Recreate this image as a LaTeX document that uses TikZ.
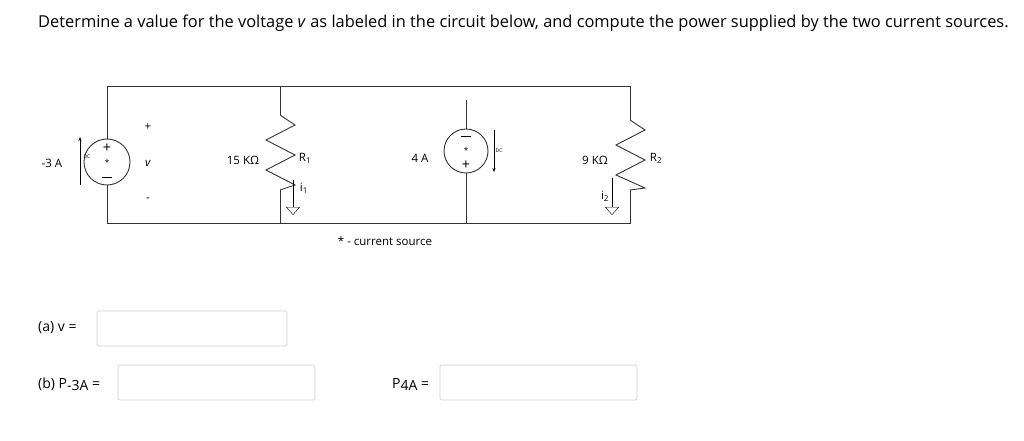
\documentclass[tikz,border=0pt]{standalone}
\usepackage{fontspec}
\setmainfont{Open Sans}
\usetikzlibrary{arrows.meta}
\tikzset{
  wire/.style={line width=0.9pt, black!80},
  srcarrow/.style={thin, -{Stealth[length=4pt,width=3pt]}},
  probe/.style={thin, -{Triangle[open, length=8pt, width=14pt]}},
  lbl/.style={font=\fontsize{11.5}{13}\selectfont, inner sep=1pt},
  small/.style={font=\fontsize{5}{5}\selectfont, inner sep=0pt},
  answer/.style={draw=black!20, rounded corners=2pt, line width=0.6pt},
  qtext/.style={anchor=west, font=\fontsize{14}{16}\selectfont, inner sep=0pt}
}
\begin{document}
\begin{tikzpicture}[x=1pt, y=-1pt]
\useasboundingbox (0,0) rectangle (1024,440);
% Title
\node[anchor=west, font=\fontsize{16.4}{18}\selectfont, inner sep=0pt] (title) at (38,23)
  {Determine a value for the voltage \textit{v} as labeled in the circuit below, and compute the power supplied by the two current sources.};
% Corners
\coordinate (tl) at (107,86);  \coordinate (bl) at (107,223);
\coordinate (tr) at (630,86);  \coordinate (br) at (630,223);
\coordinate (t1) at (280,86);  \coordinate (b1) at (280,223);
\coordinate (t4) at (466,100); \coordinate (b4) at (466,223);
% Sources
\node[draw, wire, circle, minimum size=46pt, inner sep=0pt] (sA) at (107,162) {};
\node[draw, wire, circle, minimum size=44pt, inner sep=0pt] (sB) at (466,151) {};
\node[font=\footnotesize] at (107,162) {*};
\node[font=\Large] at (107,148) {+};
\draw (102,177) -- (112,177);
\node[font=\footnotesize] at (466,150) {*};
\node[font=\Large] at (466,165) {+};
\draw (461,136) -- (471,136);
% Wires
\draw[wire] (sA.north) -- (tl) -- (tr) -- (630,120);
\draw[wire] (sA.south) -- (bl) -- (br) -- (630,190);
\draw[wire] (t1) -- (280,115);
\draw[wire] (280,190) -- (b1);
\draw[wire] (t4) -- (sB.north);
\draw[wire] (sB.south) -- (b4);
% Resistors
\draw[wire] (280,115) -- (295,125) -- (266,140) -- (295,155) -- (266,170) -- (295,185) -- (280,190);
\draw[wire] (630,120) -- (645,130) -- (616,145) -- (645,160) -- (616,175) -- (645,188) -- (630,190);
% Arrows
\draw[srcarrow] (80,185) -- (80,137);
\node[small] at (87,157) {DC};
\draw[srcarrow] (494,130) -- (494,172);
\node[small] at (499,151) {DC};
\draw[probe] (293,180) -- (293,215);
\draw[probe] (612,178) -- (612,215);
% Labels
\node[lbl] (lA) at (52,163) {-3 A};
\node[lbl] at (148,127) {+};
\node[lbl] at (148,163) {\textit{v}};
\node[lbl] at (148,200) {-};
\node[lbl] at (243,160) {15 KΩ};
\node[lbl] at (305,158) {R\textsubscript{1}};
\node[lbl] at (304,188) {i\textsubscript{1}};
\node[lbl] at (420,158) {4 A};
\node[lbl] at (595,160) {9 KΩ};
\node[lbl] at (656,158) {R\textsubscript{2}};
\node[lbl] at (605,196) {i\textsubscript{2}};
\node[lbl, font=\fontsize{11.5}{13}\selectfont] at (385,241) {* - current source};
% Answers
\node[qtext] at (38,328) {(a) v =};
\draw[answer] (97,311) rectangle (287,346);
\node[qtext] at (38,384) {(b) P\raisebox{-2pt}{-3A} =};
\draw[answer] (118,365) rectangle (315,400);
\node[qtext] at (392,384) {P\raisebox{-2pt}{4A} =};
\draw[answer] (440,365) rectangle (637,400);
\end{tikzpicture}
\end{document}
